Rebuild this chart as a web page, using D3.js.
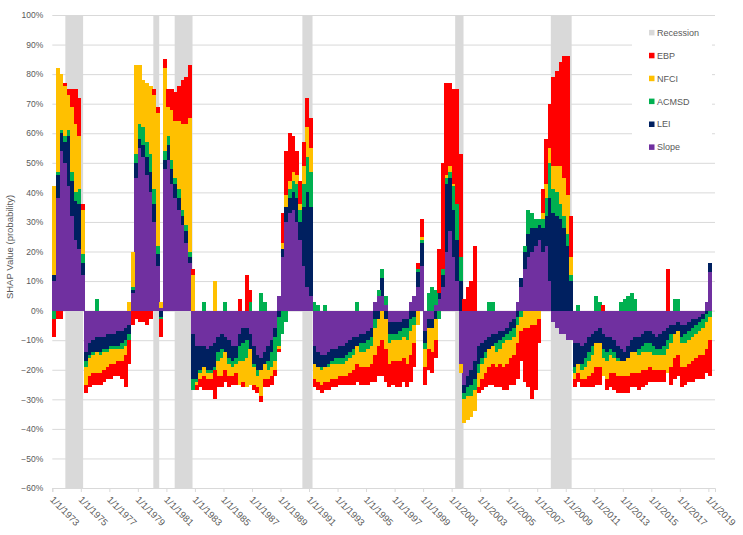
<!DOCTYPE html>
<html>
<head>
<meta charset="utf-8">
<script src="https://cdn.jsdelivr.net/npm/d3@7"></script>
<style>
  body { margin: 0; background: #fff; }
  text { font-family: "Liberation Sans", Arial, sans-serif; fill: #595959; }
</style>
</head>
<body>
<div id="chart"></div>
<script>
// quarterly SHAP values in percent, first value is 1973 Q1
const startYear = 1973;

const slope = [
  10, 38, 54, 50,   42, 32, 24, 21,   12, -14, -11, -10,  -9, -9, -9, -8,   -8, -8, -7, -7,
  -6, -5, 6, 45,    55, 52, 46, 40,   30, 15, 1, 48,      51, 43, 38, 34,   29, 23, 16, -8,
  -12, -12, -12, -13, -12, -11, -9, -8, -9, -10, -12, -12, -8, -6, -6, -8, -12, -15, -16, -14,
  -12, -10, -6, 5,  18, 30, 33, 34,   30, 24, 15, 8,      5, -12, -14, -15, -15, -14, -13, -13,
  -12, -12, -11, -10, -9, -9, -8, -8, -7, -6, 3, 5,       5, 2, -4, -4,     -4, -4, -3, -3,
  3, 5, 8, 15,      -7, -3, -3, 2,    4, 8, 20, 27,       18, 10, -18, -25, -22, -20, -17, -12,
  -11, -10, -9, -8, -8, -7, -7, -6,   -4, -3, 3, 8,       14, 18, 20, 22,   24, 20, 22, 10,
  -4, -6, -8, -8,   -10, -10, -11, -11, -12, -11, -9, -8, -7, -6, -8, -9,   -9, -10, -12, -13,
  -14, -12, -10, -9, -9, -8, -7, -7,  -8, -9, -8, -7,     -6, -5, -5, -4,   -5, -5, -4, -3,
  -3, -2, -1, 3,    13
];

const lei = [
  2, 8, 6, 7,       17, 12, 13, 15,   4, -3, -4, -4,      -5, -5, -4, -5,   -4, -4, -5, -4,
  -4, -3, 1, 5,     3, 4, 6, 7,       6, 4, -2, 3,        5, 5, 5, 4,       3, 4, 2, -15,
  -11, -8, -7, -7,  -8, -8, -5, -5,   -5, -6, -5, -4,     -4, -5, -4, -5,   -6, -5, -4, -4,
  -5, -4, -3, -2,   3, 5, 5, 6,       8, 6, 20, 32,       30, -6, -5, -4,   -4, -4, -4, -3,
  -4, -4, -4, -4,   -4, -3, -3, -3,   -3, -3, -3, -3,     6, -3, -4, -4,    -4, -3, -3, -3,
  -3, -2, 5, 8,     -4, -3, -3, -3,   2, 4, 23, 18,       16, 14, 10, -3,   -4, -5, -6, -6,
  -5, -4, -4, -4,   -3, -3, -2, -2,   -3, -3, -2, 3,      6, 8, 8, 6,       5, 8, 10, 28,
  33, 32, 31, 28,   22, 10, -8, -7,   -6, -5, -5, -4,     -4, -5, -5, -5,   -4, -4, -4, -4,
  -3, -4, -4, -5,   -4, -4, -4, -4,   -4, -4, -5, -5,     -4, -3, -3, -3,   -4, -3, -3, -3,
  -2, -2, -2, -1,   3
];

const acmsd = [
  -3, 1, 1, 2,      2, 3, 3, 5,       3, -2, -1, -1,      4, -1, -1, -1,    -1, -1, -1, -2,
  -2, -2, 1, 3,     5, 6, 5, 6,       5, 3, -1, 3,        3, 3, 2, 3,       2, 2, 2, -4,
  -1, -1, 3, -1,    -1, -1, -3, -3,   3, -2, -2, -2,      -5, -6, -6, 3,    -1, -2, 6, 3,
  -3, -5, -8, -10,  -8, -4, 3, 4,     5, 4, 8, 12,        12, 3, 2, -1,     2, -1, -1, -2,
  -2, -2, -2, -2,   -2, 3, -3, -3,    -3, -3, -3, 2,      3, 3, -3, -2,     -2, -3, -3, -4,
  -4, -3, 1, 1,     -2, 6, 8, 5,      -3, 2, 2, 2,        8, 12, 8, -2,     -3, -4, -4, -3,
  -2, -2, 3, 3,     -3, -3, -2, -2,   -3, -3, -3, -2,     2, 8, 5, 3,       2, 3, 6, 12,
  8, 8, 5, 4,       4, 2, -2, 2,      -2, -3, -3, -3,     5, 3, -3, -3,     -2, -2, -1, 3,
  4, 5, 6, 4,       -2, -2, -3, -3,   -3, -2, -2, -3,     -3, -3, 4, 4,     -2, -3, -3, -3,
  -3, -3, -3, -3,   -2
];

const nfci = [
  30, 35, 19, 17,   12, 22, 23, 18,   15, -6, -6, -6,     -7, -6, -6, -5,   -5, -5, -4, -4,
  -3, 3, 12, 30,    20, 16, 20, 23,   32, 45, 2, 28,      10, 17, 19, 23,   29, 34, 45, 12,
  -1, -2, -3, -2,   -2, 10, -5, -6,   -6, -4, -3, -3,     -8, -7, -10, -12, -6, -4, -9, -5,
  -3, -3, -3, -1,   2, 4, 3, 3,       3, 2, 6, 10,        8, -5, -5, -5,    -5, -5, -5, -5,
  -4, -4, -5, -5,   -5, -6, -5, -5,   -6, -6, -9, -9,     -10, -10, -7, -7, -7, -7, -7, -8,
  -8, -6, -5, 1,    -6, -7, -8, -7,   0, 0, 1, 2,         1, 0, -3, -8,     -8, -7, -7, -5,
  -5, -5, -6, -6,   -5, -5, -8, -8,   -6, -6, -6, -5,     -6, -6, -5, -5,   -3, 2, 5, 5,
  8, 9, 13, 13,     13, 6, -2, -3,    -3, -4, -5, -6,     -8, -8, -6, -6,   -6, -5, -5, -5,
  -5, -6, -7, -7,   -6, -6, -6, -5,   -5, -5, -5, -5,     -8, -8, -8, -8,   -8, -8, -8, -8,
  -8, -8, -9, -9,   -8
];

const ebp = [
  -6, -3, -3, 1,    2, 6, 12, 13,     2, -3, -4, -4,      -4, -4, -4, -4,   -5, -4, -5, -6,
  -11, -8, -5, -3,  -4, -4, -5, -3,   2, 2, -6, 3,        6, 7, 10, 12,     15, 16, 18, 2,
  -2, -3, -5, -4,   -4, -10, -4, -4,  -4, -4, -3, -4,     4, -2, 12, 4,     -2, -2, -2, -3,
  -3, -3, -2, -1,   10, 15, 16, 12,   8, 8, 8, 10,        10, -3, -3, -3,   -3, -3, -3, -3,
  -3, -3, -3, -4,   -5, -6, -6, -6,   -6, -6, -9, -10,    -12, -11, -8, -8, -9, -9, -8, -8,
  -9, -8, 2, 6,     -6, -7, -7, -6,   15, 36, 31, 28,     32, 39, 35, 4,    8, 10, 22, -2,
  -4, -5, -6, -7,   -7, -8, -8, -9,   -9, -10, -12, -10,  -18, -20, -25, -22, -8, 8, 15, 15,
  30, 32, 35, 41,   47, 14, -3, -3,   -3, -3, -4, -5,     -6, -6, 2, -4,    -5, -6, -6, -6,
  -6, -6, -5, -5,   -6, -6, -5, -5,   -4, -4, -4, -4,     14, -6, -7, -7,   -7, -6, -6, -7,
  -7, -8, -8, -8,   -12
];

// NBER recessions (shaded)
const recessions = [
  ["1973-12-01", "1975-03-01"],
  ["1980-02-01", "1980-07-01"],
  ["1981-08-01", "1982-11-01"],
  ["1990-07-15", "1991-04-01"],
  ["2001-04-01", "2001-11-01"],
  ["2007-12-15", "2009-06-01"]
];

const tickYears = [1973, 1975, 1977, 1979, 1981, 1983, 1985, 1987, 1989, 1991, 1993, 1995,
                   1997, 1999, 2001, 2003, 2005, 2007, 2009, 2011, 2013, 2015, 2017, 2019];
const yTicks = [-0.6, -0.5, -0.4, -0.3, -0.2, -0.1, 0, 0.1, 0.2, 0.3, 0.4, 0.5, 0.6, 0.7, 0.8, 0.9, 1.0];

const seriesNames = ["Slope", "LEI", "ACMSD", "NFCI", "EBP"];
const seriesColors = {Slope: "#7030a0", LEI: "#002060", ACMSD: "#00b050", NFCI: "#ffc000", EBP: "#ff0000"};
const legendNames = ["Recession", "EBP", "NFCI", "ACMSD", "LEI", "Slope"];
const recessionColor = "#d9d9d9";

const width = 743, height = 535;
const plot = {left: 52.3, right: 715, top: 15, bottom: 488};

const svg = d3.select("#chart").append("svg")
  .attr("width", width)
  .attr("height", height);

// quarterly rows
let rows = [];
for (let i = 0; i < slope.length; i++) {
  rows.push({
    date: new Date(startYear + Math.floor(i / 4), (i % 4) * 3, 1),
    end: new Date(startYear + Math.floor((i + 1) / 4), ((i + 1) % 4) * 3, 1),
    Slope: slope[i] / 100,
    LEI: lei[i] / 100,
    ACMSD: acmsd[i] / 100,
    NFCI: nfci[i] / 100,
    EBP: ebp[i] / 100
  });
}

let x = d3.scaleTime()
  .domain([new Date(1973, 0, 1), new Date(2019, 5, 20)])
  .range([plot.left, plot.right]);

let y = d3.scaleLinear()
  .domain([-0.6, 1.0])
  .range([plot.bottom, plot.top]);

// gridlines + y labels
let yAxis = d3.axisLeft(y)
  .tickValues(yTicks)
  .tickSize(-(plot.right - plot.left))
  .tickPadding(9)
  .tickFormat(d3.format(".0%"));

let gy = svg.append("g")
  .attr("transform", "translate(" + plot.left + ",0)")
  .call(yAxis);
gy.select(".domain").remove();
gy.selectAll("line").attr("stroke", "#d9d9d9").attr("stroke-width", 1);
gy.selectAll("text").style("font-size", "8.5px").style("fill", "#595959");

// recession shading
svg.append("g").selectAll("rect")
  .data(recessions)
  .enter().append("rect")
  .attr("x", d => x(new Date(d[0])))
  .attr("width", d => x(new Date(d[1])) - x(new Date(d[0])))
  .attr("y", y(1.0))
  .attr("height", y(-0.6) - y(1.0))
  .attr("fill", recessionColor);

// stacked bars, positives up and negatives down
let stacked = d3.stack()
  .keys(seriesNames)
  .offset(d3.stackOffsetDiverging)(rows);

let layers = svg.append("g").selectAll("g")
  .data(stacked)
  .enter().append("g")
  .attr("fill", d => seriesColors[d.key]);

layers.selectAll("rect")
  .data(d => d)
  .enter().append("rect")
  .attr("x", d => x(d.data.date))
  .attr("width", d => x(d.data.end) - x(d.data.date) + 0.4)
  .attr("y", d => y(Math.max(d[0], d[1])))
  .attr("height", d => Math.abs(y(d[0]) - y(d[1])))
  .attr("shape-rendering", "crispEdges");

// x axis
let xAxis = d3.axisBottom(x)
  .tickValues(tickYears.map(yr => new Date(yr, 0, 1)))
  .tickSize(4)
  .tickFormat(d => "1/1/" + d.getFullYear());

let gx = svg.append("g")
  .attr("transform", "translate(0," + plot.bottom + ")")
  .call(xAxis);
gx.select(".domain").attr("stroke", "#d9d9d9");
gx.selectAll("line").attr("stroke", "#d9d9d9");
gx.selectAll("text")
  .attr("x", 0)
  .attr("y", 0)
  .attr("dy", "0.35em")
  .attr("transform", "translate(-1,10) rotate(45)")
  .style("text-anchor", "start")
  .style("font-size", "9.5px")
  .style("fill", "#595959");

// y title
svg.append("text")
  .attr("transform", "translate(13,247) rotate(-90)")
  .attr("text-anchor", "middle")
  .style("font-size", "9.5px")
  .text("SHAP Value (probability)");

// legend
let legend = svg.append("g");
legend.append("rect")
  .attr("x", 632).attr("y", 18)
  .attr("width", 80).attr("height", 142)
  .attr("fill", "#fff");

let items = legend.selectAll("g.item")
  .data(legendNames)
  .enter().append("g")
  .attr("class", "item")
  .attr("transform", (d, i) => "translate(649," + (32.7 + i * 22.9) + ")");

items.append("rect")
  .attr("x", 0).attr("y", -2.8)
  .attr("width", 5.5).attr("height", 5.5)
  .attr("fill", d => d === "Recession" ? recessionColor : seriesColors[d]);

items.append("text")
  .attr("x", 8)
  .attr("dy", "0.35em")
  .style("font-size", "9px")
  .text(d => d);
</script>
</body>
</html>
